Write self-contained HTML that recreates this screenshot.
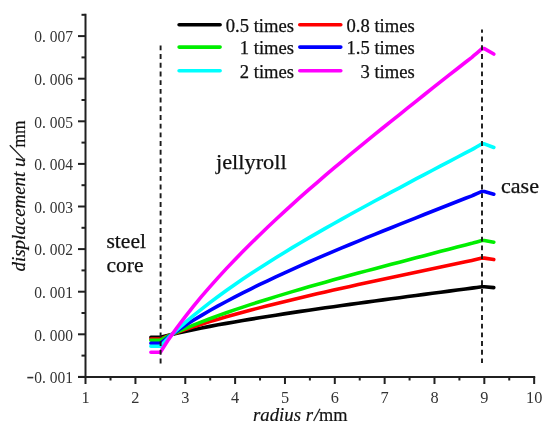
<!DOCTYPE html>
<html><head><meta charset="utf-8"><style>
html,body{margin:0;padding:0;background:#fff;}
svg{display:block;}
text{font-family:"Liberation Serif",serif;}
.tl{font-size:16.3px;fill:#333;}
.lg{font-size:18.6px;fill:#111;stroke:#111;stroke-width:0.25px;}
.an{font-size:21.5px;fill:#111;stroke:#111;stroke-width:0.25px;}
.al{font-size:19.5px;fill:#111;stroke:#111;stroke-width:0.2px;}
</style></head><body>
<svg width="550" height="431" viewBox="0 0 550 431">
<rect width="550" height="431" fill="#fff"/>
<line x1="85.5" y1="13.7" x2="85.5" y2="384" stroke="#202020" stroke-width="2"/><line x1="78" y1="377" x2="535.2" y2="377" stroke="#202020" stroke-width="2"/><line x1="78" y1="376.90" x2="85.5" y2="376.90" stroke="#202020" stroke-width="2"/><line x1="81.5" y1="355.60" x2="85.5" y2="355.60" stroke="#202020" stroke-width="2"/><line x1="78" y1="334.30" x2="85.5" y2="334.30" stroke="#202020" stroke-width="2"/><line x1="81.5" y1="313.00" x2="85.5" y2="313.00" stroke="#202020" stroke-width="2"/><line x1="78" y1="291.70" x2="85.5" y2="291.70" stroke="#202020" stroke-width="2"/><line x1="81.5" y1="270.40" x2="85.5" y2="270.40" stroke="#202020" stroke-width="2"/><line x1="78" y1="249.10" x2="85.5" y2="249.10" stroke="#202020" stroke-width="2"/><line x1="81.5" y1="227.80" x2="85.5" y2="227.80" stroke="#202020" stroke-width="2"/><line x1="78" y1="206.50" x2="85.5" y2="206.50" stroke="#202020" stroke-width="2"/><line x1="81.5" y1="185.20" x2="85.5" y2="185.20" stroke="#202020" stroke-width="2"/><line x1="78" y1="163.90" x2="85.5" y2="163.90" stroke="#202020" stroke-width="2"/><line x1="81.5" y1="142.60" x2="85.5" y2="142.60" stroke="#202020" stroke-width="2"/><line x1="78" y1="121.30" x2="85.5" y2="121.30" stroke="#202020" stroke-width="2"/><line x1="81.5" y1="100.00" x2="85.5" y2="100.00" stroke="#202020" stroke-width="2"/><line x1="78" y1="78.70" x2="85.5" y2="78.70" stroke="#202020" stroke-width="2"/><line x1="81.5" y1="57.40" x2="85.5" y2="57.40" stroke="#202020" stroke-width="2"/><line x1="78" y1="36.10" x2="85.5" y2="36.10" stroke="#202020" stroke-width="2"/><line x1="81.5" y1="14.80" x2="85.5" y2="14.80" stroke="#202020" stroke-width="2"/><line x1="110.52" y1="377" x2="110.52" y2="380.5" stroke="#202020" stroke-width="2"/><line x1="135.44" y1="377" x2="135.44" y2="384" stroke="#202020" stroke-width="2"/><line x1="160.36" y1="377" x2="160.36" y2="380.5" stroke="#202020" stroke-width="2"/><line x1="185.28" y1="377" x2="185.28" y2="384" stroke="#202020" stroke-width="2"/><line x1="210.20" y1="377" x2="210.20" y2="380.5" stroke="#202020" stroke-width="2"/><line x1="235.12" y1="377" x2="235.12" y2="384" stroke="#202020" stroke-width="2"/><line x1="260.04" y1="377" x2="260.04" y2="380.5" stroke="#202020" stroke-width="2"/><line x1="284.96" y1="377" x2="284.96" y2="384" stroke="#202020" stroke-width="2"/><line x1="309.88" y1="377" x2="309.88" y2="380.5" stroke="#202020" stroke-width="2"/><line x1="334.80" y1="377" x2="334.80" y2="384" stroke="#202020" stroke-width="2"/><line x1="359.72" y1="377" x2="359.72" y2="380.5" stroke="#202020" stroke-width="2"/><line x1="384.64" y1="377" x2="384.64" y2="384" stroke="#202020" stroke-width="2"/><line x1="409.56" y1="377" x2="409.56" y2="380.5" stroke="#202020" stroke-width="2"/><line x1="434.48" y1="377" x2="434.48" y2="384" stroke="#202020" stroke-width="2"/><line x1="459.40" y1="377" x2="459.40" y2="380.5" stroke="#202020" stroke-width="2"/><line x1="484.32" y1="377" x2="484.32" y2="384" stroke="#202020" stroke-width="2"/><line x1="509.24" y1="377" x2="509.24" y2="380.5" stroke="#202020" stroke-width="2"/><line x1="534.16" y1="377" x2="534.16" y2="384" stroke="#202020" stroke-width="2"/><text x="73" y="383.20" text-anchor="end" class="tl" textLength="38.8" lengthAdjust="spacingAndGlyphs">0. 001</text><line x1="27.3" y1="377.60" x2="33.3" y2="377.60" stroke="#333" stroke-width="1.6"/><text x="73" y="340.60" text-anchor="end" class="tl" textLength="38.8" lengthAdjust="spacingAndGlyphs">0. 000</text><text x="73" y="298.00" text-anchor="end" class="tl" textLength="38.8" lengthAdjust="spacingAndGlyphs">0. 001</text><text x="73" y="255.40" text-anchor="end" class="tl" textLength="38.8" lengthAdjust="spacingAndGlyphs">0. 002</text><text x="73" y="212.80" text-anchor="end" class="tl" textLength="38.8" lengthAdjust="spacingAndGlyphs">0. 003</text><text x="73" y="170.20" text-anchor="end" class="tl" textLength="38.8" lengthAdjust="spacingAndGlyphs">0. 004</text><text x="73" y="127.60" text-anchor="end" class="tl" textLength="38.8" lengthAdjust="spacingAndGlyphs">0. 005</text><text x="73" y="85.00" text-anchor="end" class="tl" textLength="38.8" lengthAdjust="spacingAndGlyphs">0. 006</text><text x="73" y="42.40" text-anchor="end" class="tl" textLength="38.8" lengthAdjust="spacingAndGlyphs">0. 007</text><text x="85.60" y="402.5" text-anchor="middle" class="tl">1</text><text x="135.44" y="402.5" text-anchor="middle" class="tl">2</text><text x="185.28" y="402.5" text-anchor="middle" class="tl">3</text><text x="235.12" y="402.5" text-anchor="middle" class="tl">4</text><text x="284.96" y="402.5" text-anchor="middle" class="tl">5</text><text x="334.80" y="402.5" text-anchor="middle" class="tl">6</text><text x="384.64" y="402.5" text-anchor="middle" class="tl">7</text><text x="434.48" y="402.5" text-anchor="middle" class="tl">8</text><text x="484.32" y="402.5" text-anchor="middle" class="tl">9</text><text x="534.16" y="402.5" text-anchor="middle" class="tl">10</text>
<path d="M150.89,337.30 L160.36,337.30 L168.61,335.15 L176.85,333.21 L185.10,331.38 L193.35,329.65 L201.59,327.98 L209.84,326.39 L218.09,324.85 L226.33,323.36 L234.58,321.91 L242.83,320.50 L251.07,319.13 L259.32,317.78 L267.57,316.46 L275.81,315.17 L284.06,313.89 L292.31,312.64 L300.55,311.40 L308.80,310.20 L317.05,309.00 L325.29,307.83 L333.54,306.66 L341.79,305.50 L350.03,304.36 L358.28,303.23 L366.53,302.10 L374.77,300.98 L383.02,299.87 L391.26,298.77 L399.51,297.67 L407.76,296.57 L416.00,295.47 L424.25,294.37 L432.50,293.28 L440.74,292.19 L448.99,291.11 L457.24,290.04 L465.48,288.96 L471.86,288.14 L473.73,287.87 L476.84,287.42 L481.98,286.68 L484.32,286.68 L493.79,287.59" stroke="#000000" stroke-width="3.6" fill="none" stroke-linejoin="round" stroke-linecap="round"/><path d="M150.89,339.11 L160.36,339.11 L168.61,335.65 L176.85,332.56 L185.10,329.63 L193.35,326.85 L201.59,324.19 L209.84,321.64 L218.09,319.18 L226.33,316.79 L234.58,314.48 L242.83,312.22 L251.07,310.02 L259.32,307.87 L267.57,305.76 L275.81,303.68 L284.06,301.65 L292.31,299.64 L300.55,297.66 L308.80,295.73 L317.05,293.83 L325.29,291.94 L333.54,290.08 L341.79,288.23 L350.03,286.40 L358.28,284.58 L366.53,282.78 L374.77,280.99 L383.02,279.22 L391.26,277.45 L399.51,275.70 L407.76,273.93 L416.00,272.17 L424.25,270.41 L432.50,268.67 L440.74,266.93 L448.99,265.20 L457.24,263.48 L465.48,261.76 L471.86,260.44 L473.73,260.01 L476.84,259.29 L481.98,258.11 L484.32,258.11 L493.79,259.56" stroke="#ff0000" stroke-width="3.6" fill="none" stroke-linejoin="round" stroke-linecap="round"/><path d="M150.89,340.22 L160.36,340.22 L168.61,335.97 L176.85,332.16 L185.10,328.56 L193.35,325.13 L201.59,321.86 L209.84,318.71 L218.09,315.68 L226.33,312.74 L234.58,309.89 L242.83,307.12 L251.07,304.41 L259.32,301.75 L267.57,299.16 L275.81,296.60 L284.06,294.10 L292.31,291.62 L300.55,289.19 L308.80,286.81 L317.05,284.47 L325.29,282.15 L333.54,279.85 L341.79,277.57 L350.03,275.32 L358.28,273.08 L366.53,270.87 L374.77,268.66 L383.02,266.48 L391.26,264.30 L399.51,262.14 L407.76,259.97 L416.00,257.80 L424.25,255.64 L432.50,253.49 L440.74,251.35 L448.99,249.22 L457.24,247.10 L465.48,244.99 L471.86,243.36 L473.73,242.83 L476.84,241.95 L481.98,240.49 L484.32,240.49 L493.79,242.28" stroke="#00ee00" stroke-width="3.6" fill="none" stroke-linejoin="round" stroke-linecap="round"/><path d="M150.89,343.31 L160.36,343.31 L168.61,336.84 L176.85,331.03 L185.10,325.55 L193.35,320.34 L201.59,315.35 L209.84,310.56 L218.09,305.94 L226.33,301.47 L234.58,297.13 L242.83,292.90 L251.07,288.78 L259.32,284.74 L267.57,280.78 L275.81,276.90 L284.06,273.07 L292.31,269.31 L300.55,265.61 L308.80,261.99 L317.05,258.41 L325.29,254.88 L333.54,251.38 L341.79,247.91 L350.03,244.48 L358.28,241.08 L366.53,237.70 L374.77,234.35 L383.02,231.02 L391.26,227.71 L399.51,224.42 L407.76,221.10 L416.00,217.80 L424.25,214.51 L432.50,211.24 L440.74,207.98 L448.99,204.74 L457.24,201.51 L465.48,198.29 L471.86,195.81 L473.73,195.00 L476.84,193.66 L481.98,191.45 L484.32,191.45 L493.79,194.16" stroke="#0000ff" stroke-width="3.6" fill="none" stroke-linejoin="round" stroke-linecap="round"/><path d="M150.89,346.31 L160.36,346.31 L168.61,337.68 L176.85,329.95 L185.10,322.64 L193.35,315.68 L201.59,309.04 L209.84,302.65 L218.09,296.49 L226.33,290.53 L234.58,284.74 L242.83,279.10 L251.07,273.60 L259.32,268.22 L267.57,262.94 L275.81,257.76 L284.06,252.67 L292.31,247.65 L300.55,242.71 L308.80,237.88 L317.05,233.12 L325.29,228.40 L333.54,223.74 L341.79,219.12 L350.03,214.54 L358.28,210.00 L366.53,205.50 L374.77,201.03 L383.02,196.59 L391.26,192.18 L399.51,187.79 L407.76,183.37 L416.00,178.96 L424.25,174.58 L432.50,170.22 L440.74,165.88 L448.99,161.55 L457.24,157.25 L465.48,152.96 L471.86,149.65 L473.73,148.57 L476.84,146.78 L481.98,143.83 L484.32,143.83 L493.79,147.45" stroke="#00ffff" stroke-width="3.6" fill="none" stroke-linejoin="round" stroke-linecap="round"/><path d="M150.89,352.32 L160.36,352.32 L168.61,339.37 L176.85,327.77 L185.10,316.80 L193.35,306.38 L201.59,296.40 L209.84,286.83 L218.09,277.59 L226.33,268.65 L234.58,259.96 L242.83,251.51 L251.07,243.25 L259.32,235.18 L267.57,227.26 L275.81,219.49 L284.06,211.85 L292.31,204.32 L300.55,196.91 L308.80,189.67 L317.05,182.52 L325.29,175.45 L333.54,168.46 L341.79,161.53 L350.03,154.66 L358.28,147.85 L366.53,141.10 L374.77,134.39 L383.02,127.73 L391.26,121.12 L399.51,114.54 L407.76,107.90 L416.00,101.29 L424.25,94.72 L432.50,88.18 L440.74,81.67 L448.99,75.18 L457.24,68.72 L465.48,62.28 L471.86,57.32 L473.73,55.71 L476.84,53.02 L481.98,48.60 L484.32,48.60 L493.79,54.03" stroke="#ff00ff" stroke-width="3.6" fill="none" stroke-linejoin="round" stroke-linecap="round"/>
<line x1="160.6" y1="45.4" x2="160.6" y2="363.5" stroke="#1a1a1a" stroke-width="1.9" stroke-dasharray="4.9 3.8"/><line x1="482" y1="29.4" x2="482" y2="362.9" stroke="#1a1a1a" stroke-width="1.9" stroke-dasharray="4.9 3.8" stroke-dashoffset="1.50"/>
<line x1="179.1" y1="24.7" x2="220.1" y2="24.7" stroke="#000000" stroke-width="3.6" stroke-linecap="round"/><text x="294.0" y="31.5" text-anchor="end" class="lg">0.5 times</text><line x1="299.8" y1="24.7" x2="340.8" y2="24.7" stroke="#ff0000" stroke-width="3.6" stroke-linecap="round"/><text x="414.7" y="31.5" text-anchor="end" class="lg">0.8 times</text><line x1="179.1" y1="47.1" x2="220.1" y2="47.1" stroke="#00ee00" stroke-width="3.6" stroke-linecap="round"/><text x="294.0" y="53.9" text-anchor="end" class="lg">1 times</text><line x1="299.8" y1="47.1" x2="340.8" y2="47.1" stroke="#0000ff" stroke-width="3.6" stroke-linecap="round"/><text x="414.7" y="53.9" text-anchor="end" class="lg">1.5 times</text><line x1="179.1" y1="70.8" x2="220.1" y2="70.8" stroke="#00ffff" stroke-width="3.6" stroke-linecap="round"/><text x="294.0" y="77.6" text-anchor="end" class="lg">2 times</text><line x1="299.8" y1="70.8" x2="340.8" y2="70.8" stroke="#ff00ff" stroke-width="3.6" stroke-linecap="round"/><text x="414.7" y="77.6" text-anchor="end" class="lg">3 times</text>
<text x="216" y="168.9" class="an" font-size="22.3" textLength="70.6" lengthAdjust="spacingAndGlyphs">jellyroll</text><text x="106.5" y="247.5" class="an">steel</text><text x="106.5" y="271.6" class="an">core</text><text x="501" y="192.6" class="an" textLength="38" lengthAdjust="spacingAndGlyphs">case</text><text x="253" y="421" class="al" font-style="italic" textLength="60.0" lengthAdjust="spacingAndGlyphs">radius r</text><line x1="313.6" y1="421" x2="320" y2="408.8" stroke="#222" stroke-width="1.3"/><text x="319.0" y="421" class="al" textLength="28.5" lengthAdjust="spacingAndGlyphs">mm</text><text transform="translate(25,271.5) rotate(-90)" class="al" font-style="italic" textLength="114.0" lengthAdjust="spacingAndGlyphs">displacement u</text><line x1="23.8" y1="159.4" x2="9.8" y2="145.2" stroke="#222" stroke-width="1.3"/><text transform="translate(25,147.5) rotate(-90)" class="al" textLength="27.0" lengthAdjust="spacingAndGlyphs">mm</text>
</svg>
</body></html>
